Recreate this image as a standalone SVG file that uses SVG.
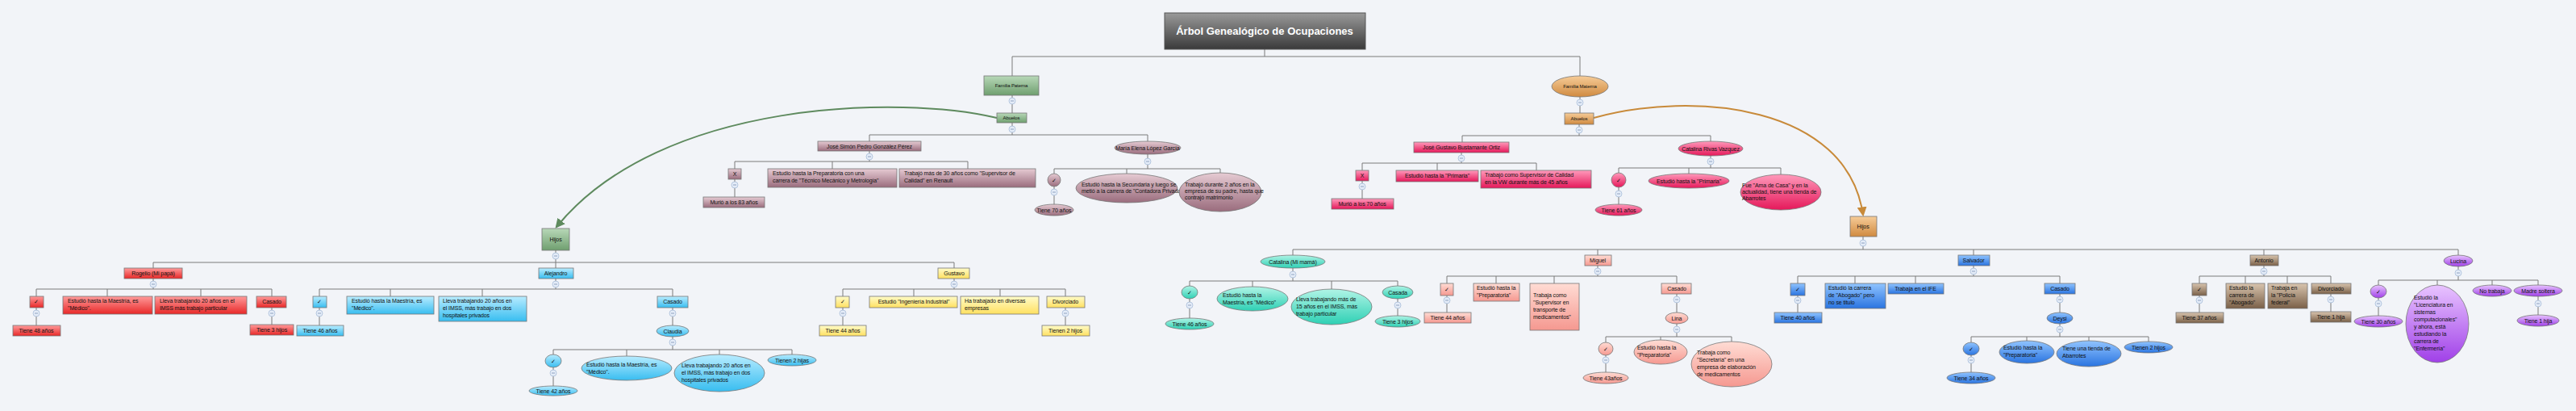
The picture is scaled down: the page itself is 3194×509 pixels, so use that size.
<svg xmlns="http://www.w3.org/2000/svg" xmlns:xlink="http://www.w3.org/1999/xlink" width="3194" height="509" viewBox="0 0 3194 509">
<defs>
<linearGradient id="gRoot" x1="0" y1="0" x2="0" y2="1"><stop offset="0" stop-color="#9a9a9a"/><stop offset="0.5" stop-color="#6a6a6a"/><stop offset="1" stop-color="#3a3a3a"/></linearGradient>
<linearGradient id="gGreen" x1="0" y1="0" x2="0" y2="1"><stop offset="0" stop-color="#b8d8b8"/><stop offset="1" stop-color="#6f9f6f"/></linearGradient>
<linearGradient id="gOrange" x1="0" y1="0" x2="0" y2="1"><stop offset="0" stop-color="#f6cc98"/><stop offset="1" stop-color="#d08a40"/></linearGradient>
<linearGradient id="gMauve" x1="0" y1="0" x2="0" y2="1"><stop offset="0" stop-color="#e6cbd3"/><stop offset="1" stop-color="#9a6c7d"/></linearGradient>
<linearGradient id="gPink" x1="0" y1="0" x2="0" y2="1"><stop offset="0" stop-color="#ff9abb"/><stop offset="1" stop-color="#e5185a"/></linearGradient>
<linearGradient id="gRed" x1="0" y1="0" x2="0" y2="1"><stop offset="0" stop-color="#ff9a9a"/><stop offset="1" stop-color="#e82828"/></linearGradient>
<linearGradient id="gLBlue" x1="0" y1="0" x2="0" y2="1"><stop offset="0" stop-color="#b8ecff"/><stop offset="1" stop-color="#38bdf0"/></linearGradient>
<linearGradient id="gYellow" x1="0" y1="0" x2="0" y2="1"><stop offset="0" stop-color="#fffbc8"/><stop offset="1" stop-color="#ffe060"/></linearGradient>
<linearGradient id="gTeal" x1="0" y1="0" x2="0" y2="1"><stop offset="0" stop-color="#b0f4e6"/><stop offset="1" stop-color="#2ed0b4"/></linearGradient>
<linearGradient id="gSalmon" x1="0" y1="0" x2="0" y2="1"><stop offset="0" stop-color="#ffdcd4"/><stop offset="1" stop-color="#f59890"/></linearGradient>
<linearGradient id="gBlue" x1="0" y1="0" x2="0" y2="1"><stop offset="0" stop-color="#90c4ff"/><stop offset="1" stop-color="#2a74e0"/></linearGradient>
<linearGradient id="gBrown" x1="0" y1="0" x2="0" y2="1"><stop offset="0" stop-color="#d8c4ae"/><stop offset="1" stop-color="#7a6048"/></linearGradient>
<linearGradient id="gPurple" x1="0" y1="0" x2="0" y2="1"><stop offset="0" stop-color="#e8c4ff"/><stop offset="1" stop-color="#a040e8"/></linearGradient>
<g id="col"><circle r="4" fill="#e4ecf8" stroke="#a8bcd8" stroke-width="0.8"/><line x1="-2" y1="0" x2="2" y2="0" stroke="#7890b0" stroke-width="0.8"/></g>
<marker id="arrG" viewBox="0 0 10 10" refX="8" refY="5" markerWidth="6" markerHeight="6" orient="auto"><path d="M0,0 L10,5 L0,10 z" fill="#5e8a5e"/></marker>
<marker id="arrO" viewBox="0 0 10 10" refX="8" refY="5" markerWidth="6" markerHeight="6" orient="auto"><path d="M0,0 L10,5 L0,10 z" fill="#c88a3a"/></marker>
</defs>
<style>
text{font-family:"Liberation Sans",Arial,sans-serif;font-size:7px;fill:#111;letter-spacing:-0.1px}
.m{text-anchor:middle}
.b{stroke:#777;stroke-width:0.8}
.green{fill:url(#gGreen)} .orange{fill:url(#gOrange)} .mauve{fill:url(#gMauve)} .pink{fill:url(#gPink)}
.red{fill:url(#gRed)} .lblue{fill:url(#gLBlue)} .yellow{fill:url(#gYellow)} .teal{fill:url(#gTeal)}
.salmon{fill:url(#gSalmon)} .blue{fill:url(#gBlue)} .brown{fill:url(#gBrown)} .purple{fill:url(#gPurple)}
.conn line{stroke:#7a7a7a;stroke-width:1;fill:none}
.w{fill:#fff;font-size:13px;font-weight:bold;letter-spacing:0}
.s{font-size:6px}
</style>
<rect width="3194" height="509" fill="#f2f4f8"/>

<g id="connectors" class="conn">
<line x1="1568" y1="61" x2="1568" y2="70"/><line x1="1255" y1="70" x2="1959" y2="70"/><line x1="1255" y1="70" x2="1255" y2="94"/><line x1="1959" y1="70" x2="1959" y2="94"/>
<line x1="1255" y1="118" x2="1255" y2="140"/><line x1="1959" y1="120" x2="1959" y2="140"/>
<line x1="1255" y1="152" x2="1255" y2="167"/><line x1="1078" y1="167" x2="1423" y2="167"/><line x1="1078" y1="167" x2="1078" y2="175"/><line x1="1423" y1="167" x2="1423" y2="175"/>
<line x1="1078" y1="187" x2="1078" y2="200"/><line x1="911" y1="200" x2="1200" y2="200"/><line x1="911" y1="200" x2="911" y2="209"/><line x1="1032" y1="200" x2="1032" y2="209"/><line x1="1200" y1="200" x2="1200" y2="209"/><line x1="911" y1="222" x2="911" y2="244"/>
<line x1="1423" y1="191" x2="1423" y2="209"/><line x1="1307" y1="209" x2="1513" y2="209"/><line x1="1307" y1="209" x2="1307" y2="215"/><line x1="1397" y1="209" x2="1397" y2="215"/><line x1="1513" y1="209" x2="1513" y2="214"/><line x1="1307" y1="231" x2="1307" y2="253"/>
<line x1="1958" y1="154" x2="1958" y2="168"/><line x1="1813" y1="168" x2="2121" y2="168"/><line x1="1813" y1="168" x2="1813" y2="176"/><line x1="2121" y1="168" x2="2121" y2="175"/>
<line x1="1812" y1="189" x2="1812" y2="202"/><line x1="1689" y1="202" x2="1905" y2="202"/><line x1="1689" y1="202" x2="1689" y2="211"/><line x1="1782" y1="202" x2="1782" y2="211"/><line x1="1905" y1="202" x2="1905" y2="211"/><line x1="1689" y1="224" x2="1689" y2="246"/>
<line x1="2121" y1="193" x2="2121" y2="208"/><line x1="2007" y1="208" x2="2208" y2="208"/><line x1="2007" y1="208" x2="2007" y2="214"/><line x1="2094" y1="208" x2="2094" y2="215"/><line x1="2208" y1="208" x2="2208" y2="216"/><line x1="2007" y1="232" x2="2007" y2="253"/>
<line x1="689" y1="310" x2="689" y2="325"/><line x1="190" y1="325" x2="1183" y2="325"/><line x1="190" y1="325" x2="190" y2="332"/><line x1="689" y1="325" x2="689" y2="332"/><line x1="1183" y1="325" x2="1183" y2="332"/>
<line x1="190" y1="345" x2="190" y2="358"/><line x1="45" y1="358" x2="337" y2="358"/><line x1="45" y1="358" x2="45" y2="367"/><line x1="133" y1="358" x2="133" y2="367"/><line x1="249" y1="358" x2="249" y2="367"/><line x1="337" y1="358" x2="337" y2="367"/><line x1="45" y1="381" x2="45" y2="403"/><line x1="337" y1="381" x2="337" y2="402"/>
<line x1="689" y1="345" x2="689" y2="358"/><line x1="396" y1="358" x2="834" y2="358"/><line x1="396" y1="358" x2="396" y2="367"/><line x1="484" y1="358" x2="484" y2="367"/><line x1="598" y1="358" x2="598" y2="367"/><line x1="834" y1="358" x2="834" y2="367"/><line x1="396" y1="381" x2="396" y2="403"/><line x1="834" y1="381" x2="834" y2="403"/>
<line x1="834" y1="417" x2="834" y2="433"/><line x1="686" y1="433" x2="982" y2="433"/><line x1="686" y1="433" x2="686" y2="439"/><line x1="777" y1="433" x2="777" y2="441"/><line x1="892" y1="433" x2="892" y2="439"/><line x1="982" y1="433" x2="982" y2="439"/><line x1="686" y1="455" x2="686" y2="478"/>
<line x1="1183" y1="345" x2="1183" y2="358"/><line x1="1045" y1="358" x2="1321" y2="358"/><line x1="1045" y1="358" x2="1045" y2="367"/><line x1="1133" y1="358" x2="1133" y2="367"/><line x1="1240" y1="358" x2="1240" y2="367"/><line x1="1321" y1="358" x2="1321" y2="367"/><line x1="1045" y1="381" x2="1045" y2="403"/><line x1="1321" y1="381" x2="1321" y2="403"/>
<line x1="2310" y1="293" x2="2310" y2="309"/><line x1="1603" y1="309" x2="3048" y2="309"/><line x1="1603" y1="309" x2="1603" y2="316"/><line x1="1981" y1="309" x2="1981" y2="316"/><line x1="2447" y1="309" x2="2447" y2="316"/><line x1="2807" y1="309" x2="2807" y2="316"/><line x1="3048" y1="309" x2="3048" y2="316"/>
<line x1="1603" y1="332" x2="1603" y2="348"/><line x1="1475" y1="348" x2="1733" y2="348"/><line x1="1475" y1="348" x2="1475" y2="354"/><line x1="1553" y1="348" x2="1553" y2="355"/><line x1="1651" y1="348" x2="1651" y2="358"/><line x1="1733" y1="348" x2="1733" y2="354"/><line x1="1475" y1="370" x2="1475" y2="394"/><line x1="1733" y1="370" x2="1733" y2="391"/>
<line x1="1981" y1="329" x2="1981" y2="342"/><line x1="1794" y1="342" x2="2079" y2="342"/><line x1="1794" y1="342" x2="1794" y2="351"/><line x1="1855" y1="342" x2="1855" y2="351"/><line x1="1927" y1="342" x2="1927" y2="351"/><line x1="2079" y1="342" x2="2079" y2="351"/><line x1="1794" y1="366" x2="1794" y2="387"/><line x1="2079" y1="364" x2="2079" y2="387"/>
<line x1="2079" y1="401" x2="2079" y2="417"/><line x1="1991" y1="417" x2="2147" y2="417"/><line x1="1991" y1="417" x2="1991" y2="424"/><line x1="2059" y1="417" x2="2059" y2="421"/><line x1="2147" y1="417" x2="2147" y2="423"/><line x1="1991" y1="440" x2="1991" y2="461"/>
<line x1="2447" y1="329" x2="2447" y2="342"/><line x1="2229" y1="342" x2="2554" y2="342"/><line x1="2229" y1="342" x2="2229" y2="351"/><line x1="2300" y1="342" x2="2300" y2="351"/><line x1="2375" y1="342" x2="2375" y2="351"/><line x1="2554" y1="342" x2="2554" y2="351"/><line x1="2229" y1="366" x2="2229" y2="387"/><line x1="2554" y1="364" x2="2554" y2="387"/>
<line x1="2554" y1="401" x2="2554" y2="417"/><line x1="2444" y1="417" x2="2664" y2="417"/><line x1="2444" y1="417" x2="2444" y2="424"/><line x1="2513" y1="417" x2="2513" y2="422"/><line x1="2590" y1="417" x2="2590" y2="422"/><line x1="2664" y1="417" x2="2664" y2="423"/><line x1="2444" y1="440" x2="2444" y2="461"/>
<line x1="2807" y1="329" x2="2807" y2="342"/><line x1="2727" y1="342" x2="2890" y2="342"/><line x1="2727" y1="342" x2="2727" y2="351"/><line x1="2784" y1="342" x2="2784" y2="351"/><line x1="2836" y1="342" x2="2836" y2="351"/><line x1="2890" y1="342" x2="2890" y2="351"/><line x1="2727" y1="366" x2="2727" y2="387"/><line x1="2890" y1="364" x2="2890" y2="386"/>
<line x1="3048" y1="330" x2="3048" y2="347"/><line x1="2949" y1="347" x2="3147" y2="347"/><line x1="2949" y1="347" x2="2949" y2="353"/><line x1="3022" y1="347" x2="3022" y2="353"/><line x1="3090" y1="347" x2="3090" y2="353"/><line x1="3147" y1="347" x2="3147" y2="353"/><line x1="2949" y1="369" x2="2949" y2="391"/><line x1="3147" y1="367" x2="3147" y2="390"/>
<path d="M1236,146 C1120,118 820,122 690,281" fill="none" stroke="#5e8a5e" stroke-width="2" marker-end="url(#arrG)"/>
<path d="M1976,146 C2100,112 2290,130 2310,266" fill="none" stroke="#c88a3a" stroke-width="2" marker-end="url(#arrO)"/>
<use href="#col" x="1255" y="125"/><use href="#col" x="1959" y="127"/><use href="#col" x="1255" y="160"/><use href="#col" x="1958" y="161"/>
<use href="#col" x="1078" y="194"/><use href="#col" x="911" y="229"/><use href="#col" x="1423" y="200"/><use href="#col" x="1307" y="238"/>
<use href="#col" x="1812" y="196"/><use href="#col" x="1689" y="231"/><use href="#col" x="2121" y="200"/><use href="#col" x="2007" y="240"/>
<use href="#col" x="689" y="317"/><use href="#col" x="190" y="352"/><use href="#col" x="45" y="388"/><use href="#col" x="337" y="388"/>
<use href="#col" x="689" y="352"/><use href="#col" x="396" y="388"/><use href="#col" x="834" y="388"/><use href="#col" x="834" y="424"/><use href="#col" x="686" y="462"/>
<use href="#col" x="1183" y="352"/><use href="#col" x="1045" y="388"/><use href="#col" x="1321" y="388"/>
<use href="#col" x="2310" y="301"/><use href="#col" x="1603" y="340"/><use href="#col" x="1475" y="378"/><use href="#col" x="1733" y="378"/>
<use href="#col" x="1981" y="336"/><use href="#col" x="1794" y="372"/><use href="#col" x="2079" y="371"/><use href="#col" x="2079" y="408"/><use href="#col" x="1991" y="446"/>
<use href="#col" x="2447" y="336"/><use href="#col" x="2229" y="372"/><use href="#col" x="2554" y="371"/><use href="#col" x="2554" y="408"/><use href="#col" x="2444" y="446"/>
<use href="#col" x="2807" y="336"/><use href="#col" x="2727" y="372"/><use href="#col" x="2890" y="371"/>
<use href="#col" x="3048" y="338"/><use href="#col" x="2949" y="376"/><use href="#col" x="3147" y="376"/>
</g>

<g id="root"><rect x="1444" y="16" width="249" height="45" fill="url(#gRoot)" stroke="#555"/><text class="m w" x="1568" y="43">Árbol Genealógico de Ocupaciones</text></g>
<g id="familia-paterna"><rect class="green b" x="1220" y="94" width="68" height="24"/><text class="m s" x="1254" y="108">Familia Paterna</text></g>
<g id="familia-materna"><ellipse class="orange b" cx="1959" cy="107" rx="35" ry="13"/><text class="m s" x="1959" y="109">Familia Materna</text></g>
<g id="abuelos-p"><rect class="green b" x="1236" y="140" width="37" height="12"/><text class="m s" x="1254" y="148">Abuelos</text></g>
<g id="abuelos-m"><rect class="orange b" x="1940" y="140" width="36" height="14"/><text class="m s" x="1958" y="149">Abuelos</text></g>

<g id="jose-simon"><rect class="mauve b" x="1014" y="175" width="128" height="12"/><text class="m" x="1078" y="184">José Simón Pedro González Pérez</text></g>
<g id="js-x"><rect class="mauve b" x="903" y="209" width="16" height="13"/><text class="m" x="911" y="218">X</text></g>
<g id="js-murio"><rect class="mauve b" x="872" y="244" width="76" height="13"/><text class="m" x="910" y="253">Murió a los 83 años</text></g>
<g id="js-est"><rect class="mauve b" x="952" y="209" width="160" height="23"/><text x="958" y="217">Estudio hasta la Preparatoria con una</text><text x="958" y="226">carrera de "Técnico Mecánico y Metrología"</text></g>
<g id="js-trab"><rect class="mauve b" x="1115" y="209" width="169" height="23"/><text x="1121" y="217">Trabajó más de 30 años como "Supervisor de</text><text x="1121" y="226">Calidad" en Renault</text></g>

<g id="maria-elena"><ellipse class="mauve b" cx="1423" cy="183" rx="41" ry="8"/><text class="m" x="1423" y="186">María Elena López García</text></g>
<g id="me-ok"><ellipse class="mauve b" cx="1307" cy="223" rx="8" ry="8"/><text class="m" x="1307" y="226">✓</text></g>
<g id="me-edad"><ellipse class="mauve b" cx="1307" cy="260" rx="24" ry="7"/><text class="m" x="1307" y="263">Tiene 70 años</text></g>
<g id="me-est"><ellipse class="mauve b" cx="1397" cy="233" rx="63" ry="18"/><text x="1341" y="231">Estudió hasta la Secundaria y luego se</text><text x="1341" y="239">metió a la carrera de "Contadora Privada"</text></g>
<g id="me-trab"><ellipse class="mauve b" cx="1513" cy="238" rx="51" ry="24"/><text x="1469" y="231">Trabajó durante 2 años en la</text><text x="1469" y="239">empresa de su padre, hasta que</text><text x="1469" y="247">contrajó matrimonio</text></g>

<g id="jose-gustavo"><rect class="pink b" x="1753" y="176" width="118" height="13"/><text class="m" x="1812" y="185">José Gustavo Bustamante Ortiz</text></g>
<g id="jg-x"><rect class="pink b" x="1681" y="211" width="16" height="13"/><text class="m" x="1689" y="220">X</text></g>
<g id="jg-murio"><rect class="pink b" x="1651" y="246" width="77" height="13"/><text class="m" x="1689" y="255">Murió a los 70 años</text></g>
<g id="jg-est"><rect class="pink b" x="1731" y="211" width="102" height="14"/><text class="m" x="1782" y="220">Estudió hasta la "Primaria"</text></g>
<g id="jg-trab"><rect class="pink b" x="1836" y="211" width="137" height="22"/><text x="1841" y="219">Trabajó como Supervisor de Calidad</text><text x="1841" y="228">en la VW durante más de 45 años</text></g>

<g id="catalina-rivas"><ellipse class="pink b" cx="2121" cy="184" rx="40" ry="9"/><text class="m" x="2121" y="187">Catalina Rivas Vazquez</text></g>
<g id="cr-ok"><ellipse class="pink b" cx="2007" cy="223" rx="9" ry="9"/><text class="m" x="2007" y="226">✓</text></g>
<g id="cr-edad"><ellipse class="pink b" cx="2007" cy="260" rx="29" ry="7"/><text class="m" x="2007" y="263">Tiene 61 años</text></g>
<g id="cr-est"><ellipse class="pink b" cx="2094" cy="224" rx="50" ry="9"/><text class="m" x="2094" y="227">Estudió hasta la "Primaria"</text></g>
<g id="cr-trab"><ellipse class="pink b" cx="2208" cy="238" rx="50" ry="22"/><text x="2160" y="232">Fue "Ama de Casa" y en la</text><text x="2160" y="240">actualidad, tiene una tienda de</text><text x="2160" y="248">Abarrotes</text></g>

<g id="hijos-p"><rect class="green b" x="672" y="283" width="34" height="27"/><text class="m" x="689" y="299">Hijos</text></g>
<g id="hijos-m"><rect class="orange b" x="2294" y="268" width="33" height="25"/><text class="m" x="2310" y="283">Hijos</text></g>

<g id="rogelio"><rect class="red b" x="154" y="332" width="72" height="13"/><text class="m" x="190" y="341">Rogelio (Mi papá)</text></g>
<g id="ro-ok"><rect class="red b" x="37" y="367" width="17" height="14"/><text class="m" x="45" y="376">✓</text></g>
<g id="ro-edad"><rect class="red b" x="16" y="403" width="59" height="13"/><text class="m" x="45" y="412">Tiene 48 años</text></g>
<g id="ro-est"><rect class="red b" x="78" y="367" width="111" height="22"/><text x="84" y="375">Estudió hasta la Maestría, es</text><text x="84" y="384">"Médico".</text></g>
<g id="ro-trab"><rect class="red b" x="192" y="367" width="114" height="22"/><text x="198" y="375">Lleva trabajando 20 años en el</text><text x="198" y="384">IMSS más trabajo particular</text></g>
<g id="ro-casado"><rect class="red b" x="318" y="367" width="37" height="14"/><text class="m" x="337" y="376">Casado</text></g>
<g id="ro-hijos"><rect class="red b" x="310" y="402" width="54" height="13"/><text class="m" x="337" y="411">Tiene 3 hijos</text></g>

<g id="alejandro"><rect class="lblue b" x="668" y="332" width="43" height="13"/><text class="m" x="689" y="341">Alejandro</text></g>
<g id="al-ok"><rect class="lblue b" x="388" y="367" width="17" height="14"/><text class="m" x="396" y="376">✓</text></g>
<g id="al-edad"><rect class="lblue b" x="368" y="403" width="58" height="13"/><text class="m" x="397" y="412">Tiene 46 años</text></g>
<g id="al-est"><rect class="lblue b" x="430" y="367" width="108" height="22"/><text x="436" y="375">Estudió hasta la Maestría, es</text><text x="436" y="384">"Médico".</text></g>
<g id="al-trab"><rect class="lblue b" x="544" y="367" width="109" height="31"/><text x="549" y="375">Lleva trabajando 20 años en</text><text x="549" y="384">el IMSS, más trabajo en dos</text><text x="549" y="393">hospitales privados</text></g>
<g id="al-casado"><rect class="lblue b" x="815" y="367" width="38" height="14"/><text class="m" x="834" y="376">Casado</text></g>
<g id="claudia"><ellipse class="lblue b" cx="834" cy="410" rx="20" ry="7"/><text class="m" x="834" y="413">Claudia</text></g>
<g id="cl-ok"><ellipse class="lblue b" cx="686" cy="447" rx="10" ry="8"/><text class="m" x="686" y="450">✓</text></g>
<g id="cl-edad"><ellipse class="lblue b" cx="686" cy="484" rx="30" ry="6"/><text class="m" x="686" y="487">Tiene 42 años</text></g>
<g id="cl-est"><ellipse class="lblue b" cx="777" cy="456" rx="56" ry="15"/><text x="727" y="454">Estudió hasta la Maestría, es</text><text x="727" y="463">"Médico".</text></g>
<g id="cl-trab"><ellipse class="lblue b" cx="892" cy="462" rx="56" ry="23"/><text x="845" y="455">Lleva trabajando 20 años en</text><text x="845" y="464">el IMSS, más trabajo en dos</text><text x="845" y="473">hospitales privados</text></g>
<g id="cl-hijas"><ellipse class="lblue b" cx="982" cy="446" rx="30" ry="7"/><text class="m" x="982" y="449">Tienen 2 hijas</text></g>

<g id="gustavo"><rect class="yellow b" x="1163" y="332" width="39" height="13"/><text class="m" x="1183" y="341">Gustavo</text></g>
<g id="gu-ok"><rect class="yellow b" x="1036" y="367" width="17" height="14"/><text class="m" x="1045" y="376">✓</text></g>
<g id="gu-edad"><rect class="yellow b" x="1016" y="403" width="58" height="13"/><text class="m" x="1045" y="412">Tiene 44 años</text></g>
<g id="gu-est"><rect class="yellow b" x="1078" y="367" width="109" height="14"/><text class="m" x="1133" y="376">Estudió "Ingeniería Industrial"</text></g>
<g id="gu-trab"><rect class="yellow b" x="1191" y="367" width="97" height="22"/><text x="1196" y="375">Ha trabajado en diversas</text><text x="1196" y="384">empresas</text></g>
<g id="gu-div"><rect class="yellow b" x="1298" y="367" width="47" height="14"/><text class="m" x="1321" y="376">Divorciado</text></g>
<g id="gu-hijos"><rect class="yellow b" x="1292" y="403" width="59" height="13"/><text class="m" x="1321" y="412">Tienen 2 hijos</text></g>

<g id="catalina-mama"><ellipse class="teal b" cx="1603" cy="324" rx="40" ry="8"/><text class="m" x="1603" y="327">Catalina (Mi mamá)</text></g>
<g id="ca-ok"><ellipse class="teal b" cx="1475" cy="362" rx="10" ry="8"/><text class="m" x="1475" y="365">✓</text></g>
<g id="ca-edad"><ellipse class="teal b" cx="1475" cy="401" rx="30" ry="7"/><text class="m" x="1475" y="404">Tiene 46 años</text></g>
<g id="ca-est"><ellipse class="teal b" cx="1553" cy="370" rx="44" ry="15"/><text x="1516" y="368">Estudió hasta la</text><text x="1516" y="377">Maestría, es "Médico"</text></g>
<g id="ca-trab"><ellipse class="teal b" cx="1651" cy="380" rx="50" ry="22"/><text x="1607" y="373">Lleva trabajando más de</text><text x="1607" y="382">15 años en el IMSS, más</text><text x="1607" y="391">trabajo particular</text></g>
<g id="ca-casada"><ellipse class="teal b" cx="1733" cy="362" rx="19" ry="8"/><text class="m" x="1733" y="365">Casada</text></g>
<g id="ca-hijos"><ellipse class="teal b" cx="1733" cy="398" rx="28" ry="7"/><text class="m" x="1733" y="401">Tiene 3 hijos</text></g>

<g id="miguel"><rect class="salmon b" x="1965" y="316" width="33" height="13"/><text class="m" x="1981" y="325">Miguel</text></g>
<g id="mi-ok"><rect class="salmon b" x="1786" y="351" width="16" height="15"/><text class="m" x="1794" y="361">✓</text></g>
<g id="mi-edad"><rect class="salmon b" x="1766" y="387" width="58" height="13"/><text class="m" x="1795" y="396">Tiene 44 años</text></g>
<g id="mi-est"><rect class="salmon b" x="1827" y="351" width="57" height="22"/><text x="1831" y="359">Estudió hasta la</text><text x="1831" y="368">"Preparatoria"</text></g>
<g id="mi-trab"><rect class="salmon b" x="1897" y="351" width="61" height="58"/><text x="1901" y="368">Trabaja como</text><text x="1901" y="377">"Supervisor en</text><text x="1901" y="386">transporte de</text><text x="1901" y="395">medicamentos"</text></g>
<g id="mi-casado"><rect class="salmon b" x="2060" y="351" width="37" height="13"/><text class="m" x="2079" y="360">Casado</text></g>
<g id="lina"><ellipse class="salmon b" cx="2079" cy="394" rx="14" ry="7"/><text class="m" x="2079" y="397">Lina</text></g>
<g id="li-ok"><ellipse class="salmon b" cx="1991" cy="432" rx="9" ry="8"/><text class="m" x="1991" y="435">✓</text></g>
<g id="li-edad"><ellipse class="salmon b" cx="1991" cy="468" rx="28" ry="7"/><text class="m" x="1991" y="471">Tiene 43años</text></g>
<g id="li-est"><ellipse class="salmon b" cx="2059" cy="436" rx="33" ry="15"/><text x="2030" y="433">Estudió hasta la</text><text x="2030" y="442">"Preparatoria"</text></g>
<g id="li-trab"><ellipse class="salmon b" cx="2147" cy="451" rx="50" ry="28"/><text x="2104" y="439">Trabaja como</text><text x="2104" y="448">"Secretaría" en una</text><text x="2104" y="457">empresa de elaboración</text><text x="2104" y="466">de medicamentos</text></g>

<g id="salvador"><rect class="blue b" x="2428" y="316" width="39" height="13"/><text class="m" x="2447" y="325">Salvador</text></g>
<g id="sa-ok"><rect class="blue b" x="2220" y="351" width="18" height="15"/><text class="m" x="2229" y="361">✓</text></g>
<g id="sa-edad"><rect class="blue b" x="2200" y="387" width="59" height="13"/><text class="m" x="2229" y="396">Tiene 40 años</text></g>
<g id="sa-est"><rect class="blue b" x="2263" y="351" width="75" height="31"/><text x="2267" y="359">Estudió la carrera</text><text x="2267" y="368">de "Abogado" pero</text><text x="2267" y="377">no se titulo</text></g>
<g id="sa-trab"><rect class="blue b" x="2341" y="351" width="69" height="13"/><text class="m" x="2375" y="360">Trabaja en el IFE</text></g>
<g id="sa-casado"><rect class="blue b" x="2535" y="351" width="38" height="13"/><text class="m" x="2554" y="360">Casado</text></g>
<g id="deysi"><ellipse class="blue b" cx="2554" cy="394" rx="16" ry="7"/><text class="m" x="2554" y="397">Deysi</text></g>
<g id="de-ok"><ellipse class="blue b" cx="2444" cy="432" rx="10" ry="8"/><text class="m" x="2444" y="435">✓</text></g>
<g id="de-edad"><ellipse class="blue b" cx="2444" cy="468" rx="30" ry="7"/><text class="m" x="2444" y="471">Tiene 34 años</text></g>
<g id="de-est"><ellipse class="blue b" cx="2513" cy="436" rx="34" ry="14"/><text x="2484" y="433">Estudió hasta la</text><text x="2484" y="442">"Preparatoria"</text></g>
<g id="de-trab"><ellipse class="blue b" cx="2590" cy="438" rx="40" ry="16"/><text x="2557" y="434">Tiene una tienda de</text><text x="2557" y="443">Abarrotes</text></g>
<g id="de-hijos"><ellipse class="blue b" cx="2664" cy="430" rx="30" ry="7"/><text class="m" x="2664" y="433">Tienen 2 hijos</text></g>

<g id="antonio"><rect class="brown b" x="2790" y="316" width="35" height="13"/><text class="m" x="2807" y="325">Antonio</text></g>
<g id="an-ok"><rect class="brown b" x="2718" y="351" width="18" height="15"/><text class="m" x="2727" y="361">✓</text></g>
<g id="an-edad"><rect class="brown b" x="2698" y="387" width="59" height="13"/><text class="m" x="2727" y="396">Tiene 37 años</text></g>
<g id="an-est"><rect class="brown b" x="2760" y="351" width="48" height="31"/><text x="2764" y="359">Estudió la</text><text x="2764" y="368">carrera de</text><text x="2764" y="377">"Abogado"</text></g>
<g id="an-trab"><rect class="brown b" x="2812" y="351" width="49" height="31"/><text x="2816" y="359">Trabaja en</text><text x="2816" y="368">la "Policía</text><text x="2816" y="377">federal"</text></g>
<g id="an-div"><rect class="brown b" x="2866" y="351" width="49" height="13"/><text class="m" x="2890" y="360">Divorciado</text></g>
<g id="an-hija"><rect class="brown b" x="2865" y="386" width="50" height="13"/><text class="m" x="2890" y="395">Tiene 1 hija</text></g>

<g id="lucina"><ellipse class="purple b" cx="3048" cy="323" rx="18" ry="7"/><text class="m" x="3048" y="326">Lucina</text></g>
<g id="lu-ok"><ellipse class="purple b" cx="2949" cy="361" rx="10" ry="8"/><text class="m" x="2949" y="364">✓</text></g>
<g id="lu-edad"><ellipse class="purple b" cx="2949" cy="398" rx="30" ry="7"/><text class="m" x="2949" y="401">Tiene 30 años</text></g>
<g id="lu-est"><ellipse class="purple b" cx="3022" cy="401" rx="39" ry="48"/><text x="2993" y="371">Estudió la</text><text x="2993" y="380">"Licenciatura en</text><text x="2993" y="389">sistemas</text><text x="2993" y="398">computacionales"</text><text x="2993" y="407">y ahora, está</text><text x="2993" y="416">estudiando la</text><text x="2993" y="425">carrera de</text><text x="2993" y="434">"Enfermería"</text></g>
<g id="lu-trab"><ellipse class="purple b" cx="3090" cy="360" rx="24" ry="7"/><text class="m" x="3090" y="363">No trabaja</text></g>
<g id="lu-madre"><ellipse class="purple b" cx="3147" cy="360" rx="30" ry="7"/><text class="m" x="3147" y="363">Madre soltera</text></g>
<g id="lu-hija"><ellipse class="purple b" cx="3147" cy="397" rx="26" ry="7"/><text class="m" x="3147" y="400">Tiene 1 hija</text></g>
</svg>
